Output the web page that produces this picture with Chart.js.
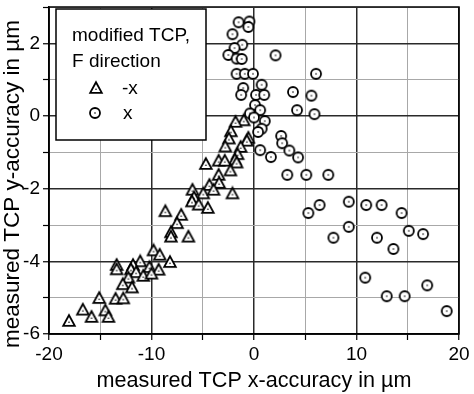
<!DOCTYPE html>
<html>
<head>
<meta charset="utf-8">
<script src="https://cdn.jsdelivr.net/npm/chart.js@4/dist/chart.umd.min.js"></script>
<style>
  html, body { margin: 0; padding: 0; background: #fff; }
  #wrap { width: 474px; height: 394px; position: relative; }
</style>
</head>
<body>
<div id="wrap"><canvas id="tcpChart"></canvas></div>
<script>
// measured TCP accuracy, F direction, moving in -x (triangles)
const minusXx = [-1.0, -1.8, -2.25, -2.45, -0.55, -0.7, -2.8, -1.3, -1.6, -1.85,
  -4.7, -3.45, -2.85, -1.7, -2.3, -3.45, -4.35, -3.4, -6.0, -4.95,
  -3.95, -2.1, -5.85, -6.05, -5.4, -4.5, -8.65, -7.1, -7.5, -8.1,
  -8.1, -6.4, -9.8, -9.2, -11.1, -8.2, -13.4, -13.4, -11.8, -12.0,
  -10.2, -9.3, -11.5, -10.8, -10.0, -12.25, -12.8, -11.9, -13.5, -12.75,
  -15.1, -14.5, -16.7, -15.85, -14.2, -18.05];
const minusXy = [-0.12, -0.16, -0.42, -0.62, -0.6, -0.68, -0.84, -0.85, -1.05, -1.2,
  -1.32, -1.23, -1.23, -1.28, -1.5, -1.62, -1.9, -1.84, -2.03, -2.13,
  -2.03, -2.13, -2.24, -2.35, -2.44, -2.53, -2.62, -2.72, -2.95, -3.2,
  -3.32, -3.32, -3.7, -3.82, -4.0, -4.02, -4.1, -4.22, -4.1, -4.22,
  -4.16, -4.23, -4.3, -4.4, -4.34, -4.45, -4.63, -4.72, -5.03, -5.02,
  -5.01, -5.35, -5.33, -5.53, -5.53, -5.64];

// moving in +x (circles)
const plusXx = [-1.5, -0.45, -0.55, -2.1, -1.15, -1.9, -2.5, -1.7, -1.2, 2.1,
  -1.7, -0.9, -0.1, 6.05, 0.75, -1.05, -1.25, 0.2, 1.0, 3.8,
  5.6, 0.1, 0.6, 4.2, 5.9, -0.4, 0.0, 1.05, 0.75, 0.4,
  2.65, 2.75, 3.45, 4.3, 0.6, 1.65, 3.25, 5.1, 7.25, 5.3,
  6.4, 9.25, 10.95, 12.45, 14.4, 9.25, 7.75, 12.0, 13.6, 15.1,
  16.5, 10.85, 16.9, 12.95, 14.7, 18.8];
const plusXy = [2.58, 2.6, 2.45, 2.25, 1.96, 1.87, 1.68, 1.58, 1.57, 1.67,
  1.16, 1.16, 1.16, 1.16, 0.86, 0.77, 0.58, 0.58, 0.58, 0.66,
  0.56, 0.3, 0.16, 0.16, 0.05, 0.07, -0.04, -0.14, -0.35, -0.44,
  -0.55, -0.75, -0.95, -1.14, -0.94, -1.13, -1.62, -1.62, -1.62, -2.67,
  -2.45, -2.36, -2.45, -2.45, -2.67, -3.05, -3.35, -3.35, -3.66, -3.16,
  -3.25, -4.45, -4.66, -4.96, -4.96, -5.37];

const legendTitle = ['modified TCP,', 'F direction'];
const seriesNames = ['-x', 'x'];
const xTitle = 'measured TCP x-accuracy in µm';
const yTitle = 'measured TCP y-accuracy in µm';

const xMin = -20, xMax = 20, yMin = -6, yMax = 3;

const fontFamily = '"Liberation Sans", Arial, sans-serif';

// marker images: open symbol with a small dot in the middle
function makeMarker(shape) {
  const c = document.createElement('canvas');
  c.width = 16; c.height = 16;
  const g = c.getContext('2d');
  g.lineWidth = 1.8;
  g.strokeStyle = '#000';
  g.fillStyle = '#fff';
  g.beginPath();
  if (shape === 'triangle') {
    g.moveTo(8, 2.2);
    g.lineTo(13.8, 12.8);
    g.lineTo(2.2, 12.8);
    g.closePath();
  } else {
    g.arc(8, 8, 5, 0, Math.PI * 2);
  }
  g.fill();
  g.stroke();
  g.fillStyle = '#000';
  g.beginPath();
  g.arc(8, shape === 'triangle' ? 9.2 : 8, 0.8, 0, Math.PI * 2);
  g.fill();
  return c;
}
const triMarker = makeMarker('triangle');
const circMarker = makeMarker('circle');

function toPoints(xs, ys) {
  return xs.map((x, i) => ({ x: x, y: ys[i] }));
}

// frame round the plot area, the boxed legend and the y title
const framePlugin = {
  id: 'frame',
  afterDatasetsDraw(chart) {
    const { ctx, chartArea: a } = chart;
    ctx.save();
    ctx.strokeStyle = '#000';
    ctx.lineWidth = 1.5;
    ctx.strokeRect(a.left, a.top, a.right - a.left, a.bottom - a.top);

    // legend box
    const bx = 56, by = 9, bw = 150, bh = 131;
    ctx.fillStyle = '#fff';
    ctx.fillRect(bx, by, bw, bh);
    ctx.strokeRect(bx, by, bw, bh);
    ctx.fillStyle = '#000';
    ctx.font = '19px ' + fontFamily;
    ctx.textBaseline = 'middle';
    ctx.textAlign = 'left';
    ctx.fillText(legendTitle[0], 72, 36);
    ctx.fillText(legendTitle[1], 72, 62);
    ctx.drawImage(triMarker, 96 - 8, 88 - 8);
    ctx.fillText(seriesNames[0], 122, 89);
    ctx.drawImage(circMarker, 95 - 8, 113 - 8);
    ctx.fillText(seriesNames[1], 123, 114);

    // y axis title, sits a bit lower than the plot centre in the original
    ctx.translate(13, 184);
    ctx.rotate(-Math.PI / 2);
    ctx.textAlign = 'center';
    ctx.font = '22.5px ' + fontFamily;
    ctx.fillText(yTitle, 0, 0);
    ctx.restore();
  }
};

const tickFont = { family: fontFamily, size: 19 };

function gridColor(step) {
  return ctx => (ctx.tick && Math.round(ctx.tick.value) % step === 0) ? '#2a2a2a' : '#a8a8a8';
}
function gridWidth(step) {
  return ctx => (ctx.tick && Math.round(ctx.tick.value) % step === 0) ? 1.5 : 1;
}

const ctx = document.getElementById('tcpChart').getContext('2d');
new Chart(ctx, {
  type: 'scatter',
  data: {
    datasets: [{
      label: seriesNames[0],
      data: toPoints(minusXx, minusXy),
      pointStyle: triMarker,
      pointRadius: 6,
      pointHoverRadius: 6
    }, {
      label: seriesNames[1],
      data: toPoints(plusXx, plusXy),
      pointStyle: circMarker,
      pointRadius: 5,
      pointHoverRadius: 5
    }]
  },
  options: {
    responsive: true,
    maintainAspectRatio: false,
    animation: false,
    layout: { padding: { top: 0, right: 15, left: 0, bottom: 0 } },
    plugins: {
      legend: { display: false },
      tooltip: { enabled: false }
    },
    scales: {
      x: {
        type: 'linear',
        min: xMin,
        max: xMax,
        afterFit: s => { s.height = 60; s.paddingLeft = 0; s.paddingRight = 0; },
        ticks: {
          stepSize: 5,
          autoSkip: false,
          maxRotation: 0,
          padding: 3,
          color: '#000',
          font: tickFont,
          callback: v => (v % 10 === 0 ? v : '')
        },
        grid: {
          color: gridColor(10),
          lineWidth: gridWidth(10),
          tickColor: '#000',
          tickWidth: 1.2,
          tickLength: 6
        },
        border: { color: '#000', width: 1.5 },
        title: {
          display: true,
          text: xTitle,
          color: '#000',
          font: { family: fontFamily, size: 21.6, lineHeight: 1.2 },
          padding: { top: 0, bottom: 0 }
        }
      },
      y: {
        type: 'linear',
        min: yMin,
        max: yMax,
        afterFit: s => { s.width = 49; s.paddingTop = 0; s.paddingBottom = 0; },
        ticks: {
          stepSize: 1,
          autoSkip: false,
          padding: 3,
          color: '#000',
          font: tickFont,
          callback: v => (v % 2 === 0 ? v : '')
        },
        grid: {
          color: gridColor(2),
          lineWidth: gridWidth(2),
          tickColor: '#000',
          tickWidth: 1.2,
          tickLength: 6
        },
        border: { color: '#000', width: 1.5 },
        title: { display: false }
      }
    }
  },
  plugins: [framePlugin]
});
</script>
</body>
</html>
